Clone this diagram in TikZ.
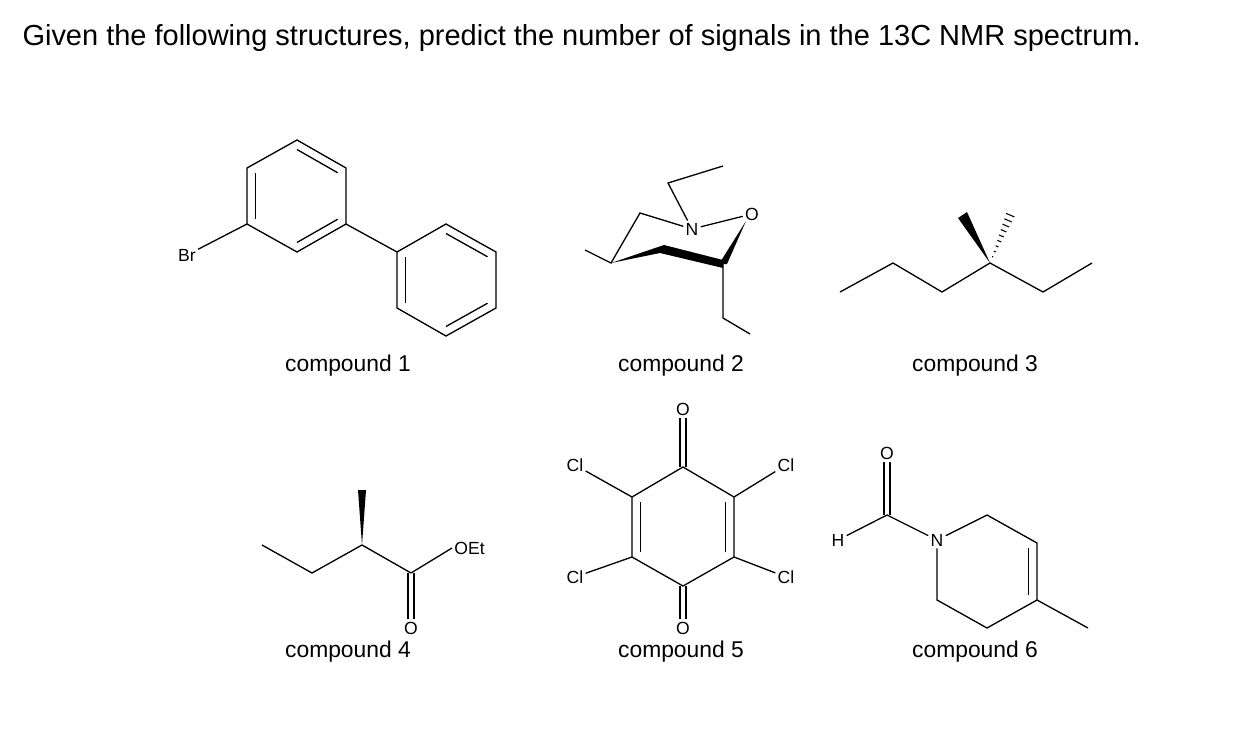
\documentclass[tikz,border=0pt]{standalone}
\usepackage{fontspec}
\setmainfont{Liberation Sans}
\usetikzlibrary{calc}
\begin{document}
\begin{tikzpicture}[x=0.02cm,y=-0.02cm,line width=0.75pt,
  atom/.style={inner sep=1pt,font=\fontsize{10}{10}\selectfont},
  lbl/.style={font=\fontsize{13}{13}\selectfont},
  bond/.style={draw,line width=0.75pt}]
\useasboundingbox (0,0) rectangle (1244,734);
\node[anchor=west,font=\fontsize{16.5}{16}\selectfont] (title) at (16,38) {Given the following structures, predict the number of signals in the 13C NMR spectrum.};
% compound 1
\foreach \n/\x/\y in {a1/297/140,a2/346/168,a3/346/224,a4/297/252,a5/247/224,a6/247/168,
  b1/446/224,b2/496/252,b3/496/308,b4/446/336,b5/397/308,b6/397/252}{\coordinate (\n) at (\x,\y);}
\coordinate (ac) at (297,196); \coordinate (bc) at (446,280);
\draw (a1)--(a2)--(a3)--(a4)--(a5)--(a6)--cycle (b1)--(b2)--(b3)--(b4)--(b5)--(b6)--cycle;
\foreach \p/\q/\c in {a1/a2/ac,a3/a4/ac,a5/a6/ac,b1/b2/bc,b3/b4/bc,b5/b6/bc}
  \draw ($(\p)!.17!(\c)$)--($(\q)!.17!(\c)$);
\node[atom] (br) at (187,255) {Br};
\draw (br)--(a5); \draw (a3)--(b6);
% compound 2
\node[atom] (n2) at (692,229) {N};
\node[atom] (o2) at (752,214) {O};
\coordinate (e1) at (668,183); \coordinate (e2) at (723,166);
\coordinate (r1) at (640,213); \coordinate (r2) at (611,263); \coordinate (me) at (585,250);
\coordinate (r3) at (664,249); \coordinate (r4) at (723,264);
\coordinate (d1) at (723,318); \coordinate (d2) at (750,334);
\draw (n2)--(e1)--(e2); \draw (n2)--(r1)--(r2)--(me); \draw (n2)--(o2);
\draw (r4)--(d1)--(d2);
\fill (r2)--(664,245)--(723,260)--(723,268)--(660,253)--cycle;
\fill (719,264)--(746,221)--(727,264)--cycle;
% compound 3
\coordinate (c1) at (840,292); \coordinate (c2) at (893,263); \coordinate (c3) at (942,292);
\coordinate (c4) at (990,263); \coordinate (c5) at (1043,292); \coordinate (c6) at (1092,263);
\draw (c1)--(c2)--(c3)--(c4)--(c5)--(c6);
\fill (c4)--(958,218)--(967,212)--cycle;
\foreach \t in {0.12,0.22,...,1.0}
  \draw[line width=0.6pt] ({990+22*\t+4.6*\t},{263-52*\t+1.95*\t})--({990+22*\t-4.6*\t},{263-52*\t-1.95*\t});
\node[lbl] (l1) at (348,366) {compound 1};
\node[lbl] (l2) at (681,366) {compound 2};
\node[lbl] (l3) at (975,366) {compound 3};
% compound 4
\coordinate (f1) at (262,545); \coordinate (f2) at (312,573); \coordinate (f3) at (362,545); \coordinate (f4) at (411,573);
\draw (f1)--(f2)--(f3)--(f4);
\fill (f3)--(358,490)--(366,490)--cycle;
\node[atom,anchor=west] (oet) at (452,548) {OEt};
\draw (f4)--(oet.west);
\node[atom] (o4) at (411,628) {O};
\draw ($(f4)+(-3,0)$)--($(o4.north)+(-3,0)$) ($(f4)+(3,0)$)--($(o4.north)+(3,0)$);
% compound 5
\foreach \n/\x/\y in {q1/683/467,q2/734/497,q3/734/557,q4/683/586,q5/632/557,q6/632/497}{\coordinate (\n) at (\x,\y);}
\coordinate (qc) at (683,527);
\draw (q1)--(q2)--(q3)--(q4)--(q5)--(q6)--cycle;
\draw ($(q2)!.17!(qc)$)--($(q3)!.17!(qc)$) ($(q5)!.17!(qc)$)--($(q6)!.17!(qc)$);
\node[atom] (ot) at (683,409) {O}; \node[atom] (ob) at (683,628) {O};
\draw ($(q1)+(-3,0)$)--($(ot.south)+(-3,0)$) ($(q1)+(3,0)$)--($(ot.south)+(3,0)$);
\draw ($(q4)+(-3,0)$)--($(ob.north)+(-3,0)$) ($(q4)+(3,0)$)--($(ob.north)+(3,0)$);
\node[atom] (cl1) at (575,465) {Cl}; \node[atom] (cl2) at (786,465) {Cl};
\node[atom] (cl3) at (575,577) {Cl}; \node[atom] (cl4) at (786,577) {Cl};
\draw (cl1)--(q6) (cl2)--(q2) (cl3)--(q5) (cl4)--(q3);
% compound 6
\node[atom] (h6) at (838,540) {H};
\coordinate (k) at (887,515);
\node[atom] (o6) at (887,453) {O};
\node[atom] (n6) at (937,540) {N};
\coordinate (s1) at (987,515); \coordinate (s2) at (1037,543); \coordinate (s3) at (1037,600);
\coordinate (s4) at (987,628); \coordinate (s5) at (937,600); \coordinate (m6) at (1088,628);
\coordinate (sc) at (987,571);
\draw (h6)--(k)--(n6)--(s1)--(s2)--(s3)--(s4)--(s5)--(n6);
\draw ($(k)+(-3,0)$)--($(o6.south)+(-3,0)$) ($(k)+(3,0)$)--($(o6.south)+(3,0)$);
\draw ($(s2)!.17!(sc)$)--($(s3)!.17!(sc)$);
\draw (s3)--(m6);
\node[lbl] (l4) at (348,652) {compound 4};
\node[lbl] (l5) at (681,652) {compound 5};
\node[lbl] (l6) at (975,652) {compound 6};
\end{tikzpicture}
\end{document}
